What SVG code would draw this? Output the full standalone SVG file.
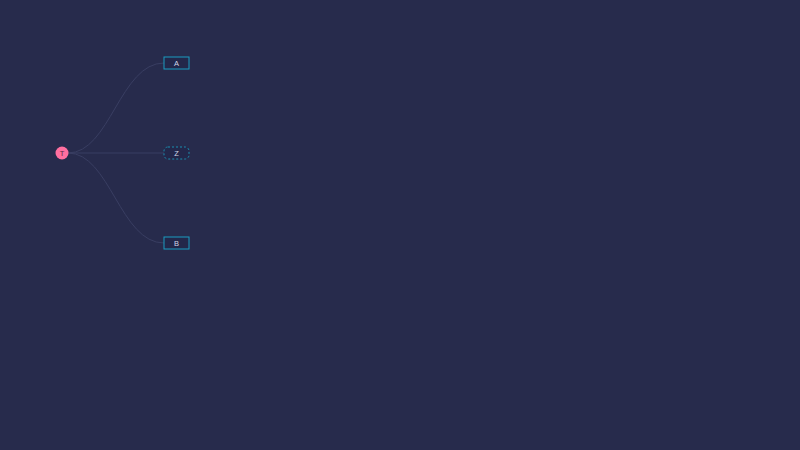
<svg xmlns="http://www.w3.org/2000/svg" width="800" height="450" viewBox="0 0 800 450">
<style>
.bg{fill:#272b4c}
.edge{fill:none;stroke:#393e62;stroke-width:1}
.box{fill:#23274a;stroke:#1b9cc0;stroke-width:1}
.ghost{fill:#23274a;stroke:#1b8fb0;stroke-width:1;stroke-dasharray:2 2}
.lbl{font-family:"Liberation Sans",Arial,sans-serif;font-size:7.5px;fill:#cfd5e8;text-anchor:middle;dominant-baseline:central}
.root{fill:#ff6fa0}
.rootlbl{font-family:"Liberation Sans",Arial,sans-serif;font-size:7.5px;fill:#5a2a45;text-anchor:middle;dominant-baseline:central}
</style>
<rect class="bg" x="0" y="0" width="800" height="450"/>
<g id="connectors">
<path class="edge" d="M68,153 C110,153 120,63 164,63"/>
<path class="edge" d="M68,153 L164,153"/>
<path class="edge" d="M68,153 C110,153 120,243 164,243"/>
</g>
<g id="node-T">
<circle class="root" cx="62" cy="153" r="6.5"/>
<text class="rootlbl" x="62" y="153">T</text>
</g>
<g id="node-A">
<rect class="box" x="164" y="57" width="25" height="12"/>
<text class="lbl" x="176.5" y="63">A</text>
</g>
<g id="node-Z">
<rect class="ghost" x="164" y="147" width="25" height="12" rx="4"/>
<text class="lbl" x="176.5" y="153">Z</text>
</g>
<g id="node-B">
<rect class="box" x="164" y="237" width="25" height="12"/>
<text class="lbl" x="176.5" y="243">B</text>
</g>
</svg>
